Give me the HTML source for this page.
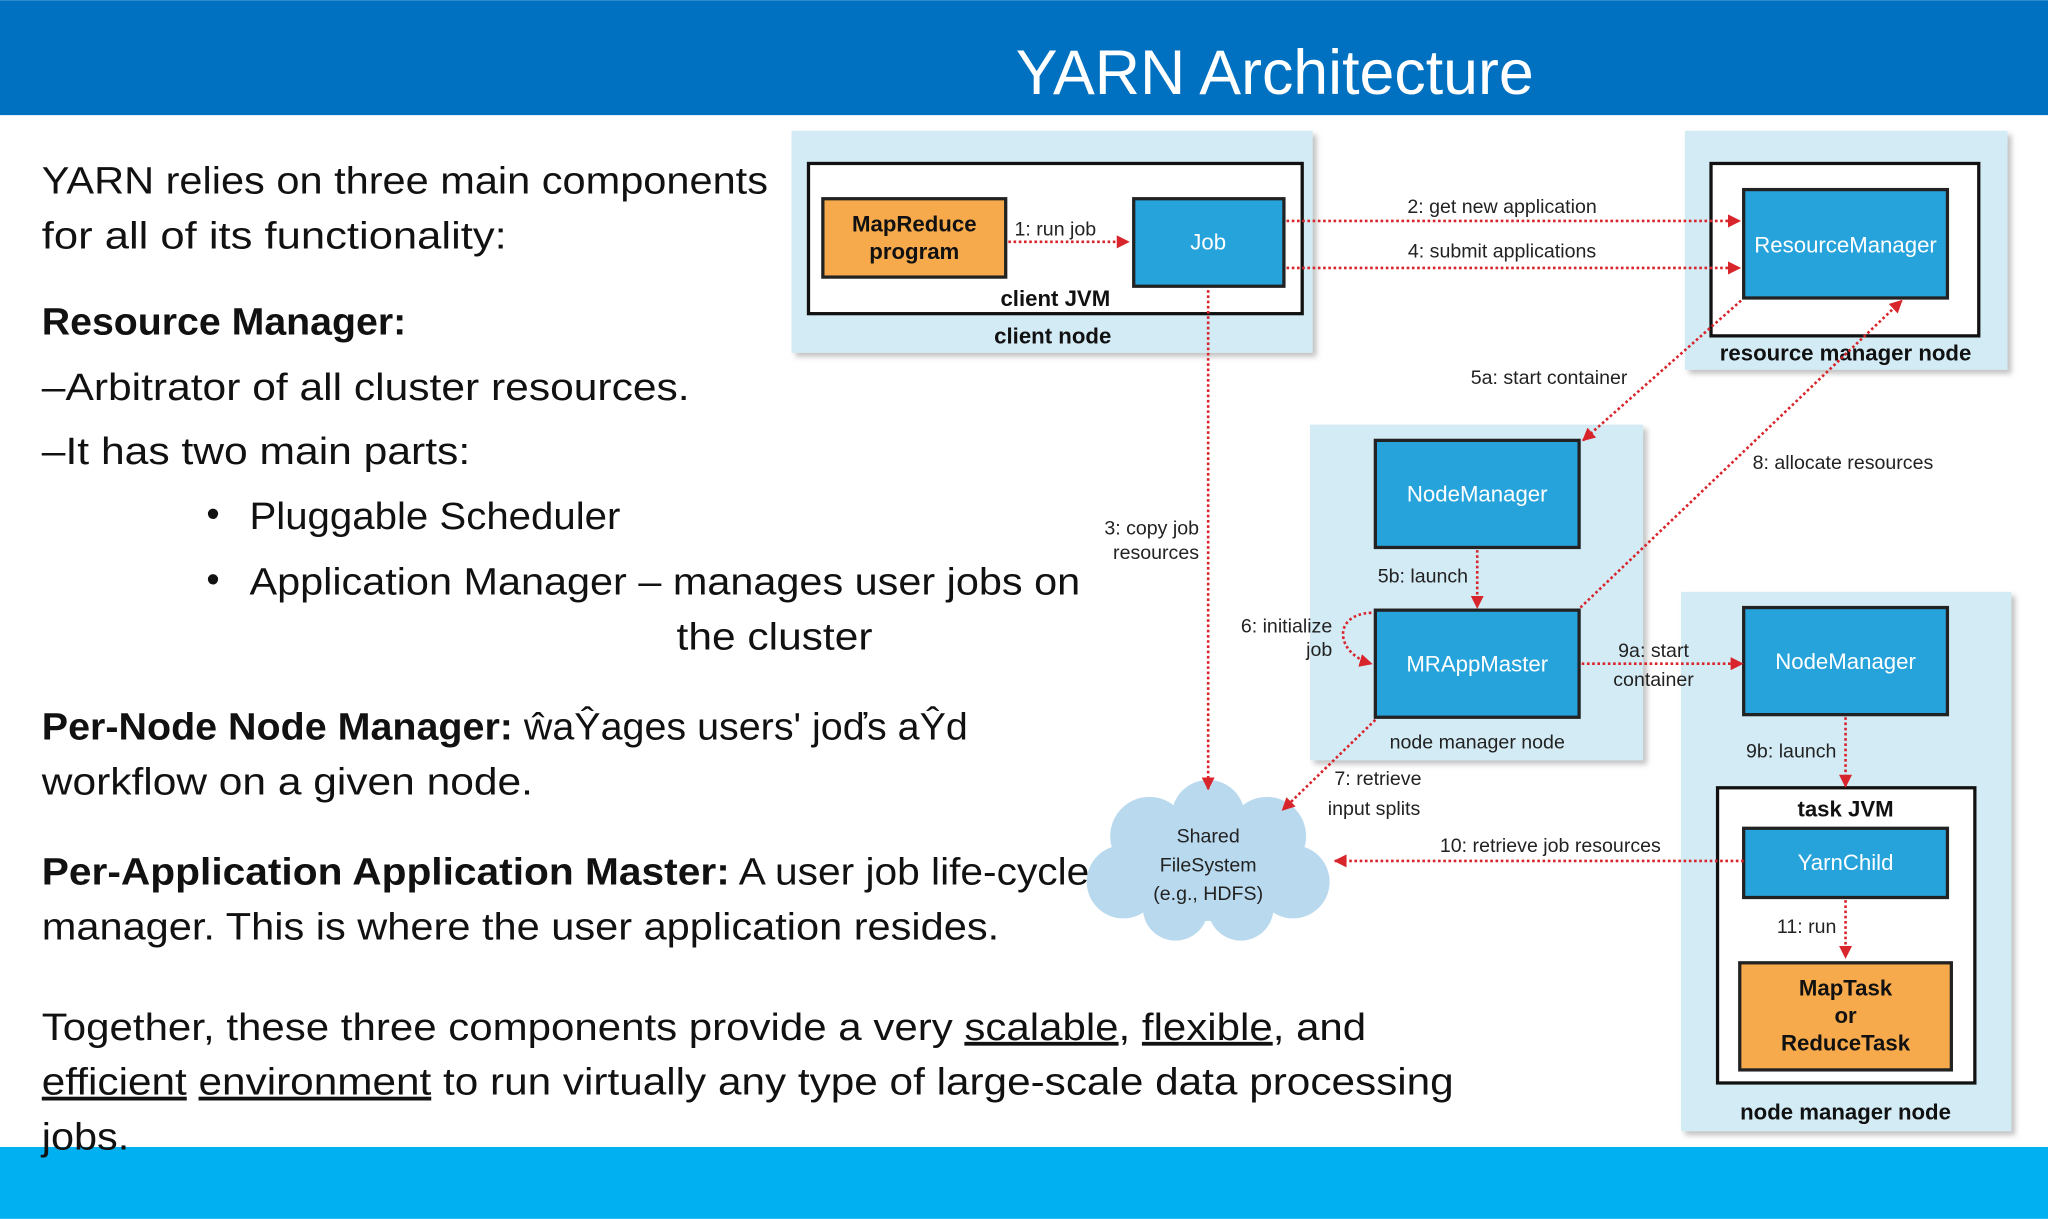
<!DOCTYPE html>
<html><head><meta charset="utf-8"><style>
html,body{margin:0;padding:0;background:#fff;}
svg{display:block;}
.t{font-family:"Liberation Sans",sans-serif;font-size:29px;fill:#111;}
.b{font-weight:bold;}
.d{font-family:"Liberation Sans Narrow","Liberation Sans",sans-serif;font-size:15px;fill:#222;}
.db{font-family:"Liberation Sans Narrow","Liberation Sans",sans-serif;font-size:17px;font-weight:bold;fill:#111;}
.w{font-family:"Liberation Sans Narrow","Liberation Sans",sans-serif;font-size:17px;fill:#fff;}
.ar{stroke:#d8242b;stroke-width:2;stroke-dasharray:2 2;fill:none;}
.u{text-decoration:underline;}
</style></head><body>
<svg width="2048" height="1219" viewBox="0 0 1568 933" xmlns="http://www.w3.org/2000/svg">
<defs>
<marker id="a" markerWidth="10" markerHeight="10" refX="9" refY="5" orient="auto" markerUnits="userSpaceOnUse"><path d="M0,0 L10,5 L0,10 z" fill="#d8242b"/></marker>
<filter id="sh" x="-5%" y="-5%" width="115%" height="115%"><feDropShadow dx="3" dy="3" stdDeviation="2" flood-color="#999" flood-opacity="0.6"/></filter>
</defs>
<rect x="0" y="0" width="1568" height="88" fill="#0070c0"/>
<text x="976" y="72" text-anchor="middle" font-family="Liberation Sans,sans-serif" font-size="48" fill="#fff">YARN Architecture</text>
<rect x="0" y="878" width="1568" height="55" fill="#00b0f0"/>

<!-- left text -->
<text class="t" x="32" y="148" textLength="556" lengthAdjust="spacingAndGlyphs">YARN relies on three main components</text>
<text class="t" x="32" y="190" textLength="356" lengthAdjust="spacingAndGlyphs">for all of its functionality:</text>
<text class="t b" x="32" y="256" textLength="279" lengthAdjust="spacingAndGlyphs">Resource Manager:</text>
<text class="t" x="32" y="306" textLength="496" lengthAdjust="spacingAndGlyphs">–Arbitrator of all cluster resources.</text>
<text class="t" x="32" y="355" textLength="328" lengthAdjust="spacingAndGlyphs">–It has two main parts:</text>
<text class="t" x="158" y="403">•</text>
<text class="t" x="191" y="405" textLength="284" lengthAdjust="spacingAndGlyphs">Pluggable Scheduler</text>
<text class="t" x="158" y="453">•</text>
<text class="t" x="191" y="455" textLength="636" lengthAdjust="spacingAndGlyphs">Application Manager – manages user jobs on</text>
<text class="t" x="518" y="497" textLength="150" lengthAdjust="spacingAndGlyphs">the cluster</text>
<text class="t" x="32" y="566" textLength="709" lengthAdjust="spacingAndGlyphs"><tspan class="b">Per-Node Node Manager:</tspan> ŵaŶages usersʹ joďs aŶd</text>
<text class="t" x="32" y="608" textLength="376" lengthAdjust="spacingAndGlyphs">workflow on a given node.</text>
<text class="t" x="32" y="677" textLength="802" lengthAdjust="spacingAndGlyphs"><tspan class="b">Per-Application Application Master:</tspan> A user job life-cycle</text>
<text class="t" x="32" y="719" textLength="733" lengthAdjust="spacingAndGlyphs">manager. This is where the user application resides.</text>
<text class="t" x="32" y="796" textLength="1014" lengthAdjust="spacingAndGlyphs">Together, these three components provide a very <tspan class="u">scalable</tspan>, <tspan class="u">flexible</tspan>, and</text>
<text class="t" x="32" y="838" textLength="1081" lengthAdjust="spacingAndGlyphs"><tspan class="u">efficient</tspan> <tspan class="u">environment</tspan> to run virtually any type of large-scale data processing</text>
<text class="t" x="32" y="880" textLength="67" lengthAdjust="spacingAndGlyphs">jobs.</text>

<!-- node backgrounds -->
<rect x="606" y="100" width="399" height="170" fill="#d3ebf5" filter="url(#sh)"/>
<rect x="1290" y="100" width="247" height="183" fill="#d3ebf5" filter="url(#sh)"/>
<rect x="1003" y="325" width="255" height="257" fill="#d3ebf5" filter="url(#sh)"/>
<rect x="1287" y="453" width="253" height="413" fill="#d3ebf5" filter="url(#sh)"/>

<!-- client -->
<rect x="619" y="125" width="378" height="115" fill="#fff" stroke="#111" stroke-width="2.5"/>
<rect x="630" y="152" width="140" height="60" fill="#f6aa4c" stroke="#222" stroke-width="2.5"/>
<text class="db" x="700" y="177" text-anchor="middle">MapReduce</text>
<text class="db" x="700" y="198" text-anchor="middle">program</text>
<rect x="868" y="152" width="115" height="67" fill="#27a3dc" stroke="#222" stroke-width="2.5"/>
<text class="w" x="925" y="191" text-anchor="middle">Job</text>
<text class="db" x="808" y="234" text-anchor="middle">client JVM</text>
<text class="db" x="806" y="263" text-anchor="middle">client node</text>

<!-- RM -->
<rect x="1310" y="125" width="205" height="132" fill="#fff" stroke="#111" stroke-width="2.5"/>
<rect x="1335" y="145" width="156" height="83" fill="#27a3dc" stroke="#222" stroke-width="2.5"/>
<text class="w" x="1413" y="193" text-anchor="middle">ResourceManager</text>
<text class="db" x="1413" y="276" text-anchor="middle">resource manager node</text>

<!-- middle NM -->
<rect x="1053" y="337" width="156" height="82" fill="#27a3dc" stroke="#222" stroke-width="2.5"/>
<text class="w" x="1131" y="384" text-anchor="middle">NodeManager</text>
<rect x="1053" y="467" width="156" height="82" fill="#27a3dc" stroke="#222" stroke-width="2.5"/>
<text class="w" x="1131" y="514" text-anchor="middle">MRAppMaster</text>
<text class="d" x="1131" y="573" text-anchor="middle">node manager node</text>

<!-- right NM -->
<rect x="1335" y="465" width="156" height="82" fill="#27a3dc" stroke="#222" stroke-width="2.5"/>
<text class="w" x="1413" y="512" text-anchor="middle">NodeManager</text>
<rect x="1315" y="603" width="197" height="226" fill="#fff" stroke="#111" stroke-width="2.5"/>
<text class="db" x="1413" y="625" text-anchor="middle">task JVM</text>
<rect x="1335" y="634" width="156" height="53" fill="#27a3dc" stroke="#222" stroke-width="2.5"/>
<text class="w" x="1413" y="666" text-anchor="middle">YarnChild</text>
<rect x="1332" y="737" width="162" height="82" fill="#f6aa4c" stroke="#222" stroke-width="2.5"/>
<text class="db" x="1413" y="762" text-anchor="middle">MapTask</text>
<text class="db" x="1413" y="783" text-anchor="middle">or</text>
<text class="db" x="1413" y="804" text-anchor="middle">ReduceTask</text>
<text class="db" x="1413" y="857" text-anchor="middle">node manager node</text>

<!-- cloud -->
<g fill="#b9d9ee">
<ellipse cx="925" cy="660" rx="75" ry="45"/>
<circle cx="880" cy="640" r="30"/><circle cx="925" cy="625" r="28"/><circle cx="970" cy="640" r="30"/>
<circle cx="860" cy="675" r="28"/><circle cx="990" cy="675" r="28"/>
<circle cx="900" cy="695" r="25"/><circle cx="950" cy="695" r="25"/>
</g>
<text class="d" x="925" y="645" text-anchor="middle" font-size="16">Shared</text>
<text class="d" x="925" y="667" text-anchor="middle" font-size="16">FileSystem</text>
<text class="d" x="925" y="689" text-anchor="middle" font-size="16">(e.g., HDFS)</text>

<!-- arrows -->
<line class="ar" x1="772" y1="185" x2="864" y2="185" marker-end="url(#a)"/>
<text class="d" x="808" y="180" text-anchor="middle">1: run job</text>
<line class="ar" x1="985" y1="169" x2="1332" y2="169" marker-end="url(#a)"/>
<text class="d" x="1150" y="163" text-anchor="middle">2: get new application</text>
<line class="ar" x1="985" y1="205" x2="1332" y2="205" marker-end="url(#a)"/>
<text class="d" x="1150" y="197" text-anchor="middle">4: submit applications</text>
<line class="ar" x1="925" y1="222" x2="925" y2="604" marker-end="url(#a)"/>
<text class="d" x="918" y="409" text-anchor="end">3: copy job</text>
<text class="d" x="918" y="428" text-anchor="end">resources</text>
<line class="ar" x1="1333" y1="230" x2="1212" y2="337" marker-end="url(#a)"/>
<text class="d" x="1186" y="294" text-anchor="middle">5a: start container</text>
<line class="ar" x1="1210" y1="465" x2="1456" y2="230" marker-end="url(#a)"/>
<text class="d" x="1411" y="359" text-anchor="middle">8: allocate resources</text>
<line class="ar" x1="1131" y1="421" x2="1131" y2="465" marker-end="url(#a)"/>
<text class="d" x="1124" y="446" text-anchor="end">5b: launch</text>
<path class="ar" d="M1050,469 C1020,470 1022,500 1050,508" marker-end="url(#a)"/>
<text class="d" x="1020" y="484" text-anchor="end">6: initialize</text>
<text class="d" x="1020" y="502" text-anchor="end">job</text>
<line class="ar" x1="1211" y1="508" x2="1334" y2="508" marker-end="url(#a)"/>
<text class="d" x="1266" y="503" text-anchor="middle">9a: start</text>
<text class="d" x="1266" y="525" text-anchor="middle">container</text>
<line class="ar" x1="1053" y1="551" x2="982" y2="620" marker-end="url(#a)"/>
<text class="d" x="1055" y="601" text-anchor="middle">7: retrieve</text>
<text class="d" x="1052" y="624" text-anchor="middle">input splits</text>
<line class="ar" x1="1413" y1="549" x2="1413" y2="602" marker-end="url(#a)"/>
<text class="d" x="1406" y="580" text-anchor="end">9b: launch</text>
<line class="ar" x1="1335" y1="659" x2="1022" y2="659" marker-end="url(#a)"/>
<text class="d" x="1187" y="652" text-anchor="middle">10: retrieve job resources</text>
<line class="ar" x1="1413" y1="689" x2="1413" y2="733" marker-end="url(#a)"/>
<text class="d" x="1406" y="714" text-anchor="end">11: run</text>
</svg>
</body></html>
